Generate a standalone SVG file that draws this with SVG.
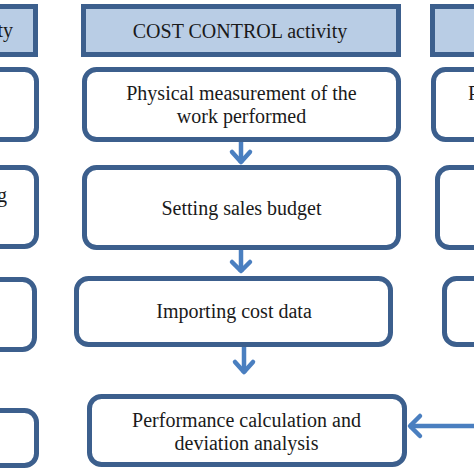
<svg xmlns="http://www.w3.org/2000/svg" width="474" height="474" viewBox="0 0 474 474">
<style>
.hdr{fill:#b9cde5;stroke:#3c5f8d;stroke-width:5}
.box{fill:#ffffff;stroke:#3c5f8d;stroke-width:5}
.t{font-family:"Liberation Serif","Times New Roman",serif;font-size:20px;fill:#1a1a1a}
.c{text-anchor:middle}
.ln{fill:none;stroke:#4a7fc0;stroke-width:4.5}
.hd{fill:none;stroke:#4a7fc0;stroke-width:4.5;stroke-linecap:round;stroke-linejoin:round}
</style>
<rect width="474" height="474" fill="#ffffff"/>
<g id="left-column">
<g id="left-header"><rect class="hdr" x="-12" y="6.5" width="47.5" height="48"/><text class="t" x="13" y="37" text-anchor="end">ty</text></g>
<g id="left-box1"><rect class="box" x="-20" y="69.5" width="56.5" height="70" rx="12"/></g>
<g id="left-box2"><rect class="box" x="-20" y="167.5" width="56.5" height="79" rx="12"/><text class="t" x="7" y="202" text-anchor="end">g</text></g>
<g id="left-box3"><rect class="box" x="-20" y="279.5" width="54.5" height="70" rx="12"/></g>
<g id="left-box4"><rect class="box" x="-20" y="410.5" width="56.5" height="55" rx="12"/></g>
</g>
<g id="center-column">
<g id="header"><rect class="hdr" x="83.5" y="6.5" width="315" height="48"/><text class="t c" x="240" y="38">COST CONTROL activity</text></g>
<g id="box1"><rect class="box" x="84.5" y="69.5" width="314" height="70" rx="12"/><text class="t c" x="241.5" y="100">Physical measurement of the</text><text class="t c" x="241.5" y="123">work performed</text></g>
<g id="box2"><rect class="box" x="84.5" y="167.5" width="314" height="80" rx="12"/><text class="t c" x="241.5" y="215">Setting sales budget</text></g>
<g id="box3"><rect class="box" x="76.5" y="278.5" width="314" height="66" rx="12"/><text class="t c" x="234" y="318">Importing cost data</text></g>
<g id="box4"><rect class="box" x="89.5" y="396.5" width="315" height="68" rx="12"/><text class="t c" x="246.5" y="427">Performance calculation and</text><text class="t c" x="246.5" y="450">deviation analysis</text></g>
</g>
<g id="right-column">
<g id="right-header"><rect class="hdr" x="432.5" y="6.5" width="60" height="48"/></g>
<g id="right-box1"><rect class="box" x="433.5" y="69.5" width="60" height="70" rx="12"/><text class="t" x="468" y="100">P</text></g>
<g id="right-box2"><rect class="box" x="437.5" y="167.5" width="60" height="80" rx="12"/></g>
<g id="right-box3"><rect class="box" x="444.5" y="278.5" width="60" height="66" rx="12"/></g>
</g>
<g id="connectors">
<line class="ln" x1="241" y1="142" x2="241" y2="163"/>
<polyline class="hd" points="232,152 241,162 250,152"/>
<line class="ln" x1="241" y1="250" x2="241" y2="272"/>
<polyline class="hd" points="232,262 241,271 250,262"/>
<line class="ln" x1="244" y1="347" x2="244" y2="373"/>
<polyline class="hd" points="235,362 244,372 253,362"/>
<line class="ln" x1="474" y1="426" x2="409" y2="426"/>
<polyline class="hd" points="420,416 410,426 420,436"/>
</g>
</svg>
